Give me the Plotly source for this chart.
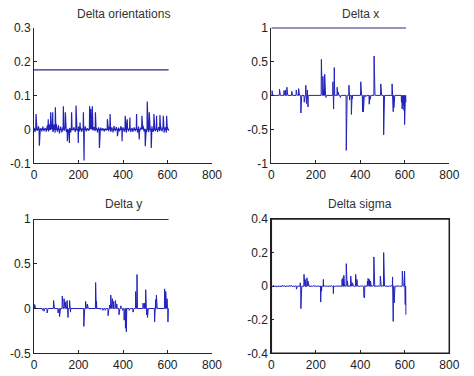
import plotly.graph_objects as go

# ---------------- data ----------------
N_POINTS = 606
NOISE_STEP = 5

x_ticks = [0, 200, 400, 600, 800]
x_ticktext = ["0", "200", "400", "600", "800"]

titles = ["Delta orientations", "Delta x", "Delta y", "Delta sigma"]

# constant reference levels (horizontal lines)
ori_level = 0.175
dx_level = 1.0
dy_level = 1.0

# Delta orientations
ori_noise_milli = [
    5, -8, 6, -4, 9, -10, 3, -6, 8, -5,
    4, -7, 12, -6, 15, -9, 18, -8, 14, -10,
    16, -7, 12, -5, 8, -9, 6, -4, 7, -8,
    5, -6, 4, -9, 7, -3, 6, -8, 5, -4,
    8, -6, 5, -7, 4, -5, 9, -6, 3, -4,
    6, -8, 5, -3, 7, -5, 4, -9, 6, -3,
    5, -4, 3, -6, 2, -3, 4, -5, 8, -7,
    6, -9, 10, -5, 7, -8, 5, -6, 9, -4,
    6, -7, 8, -10, 5, -6, 9, -8, 4, -7,
    6, -5, 7, -9, 8, -6, 5, -8, 10, -7,
    12, -9, 14, -8, 10, -6, 9, -7, 8, -5,
    6, -8, 7, -5, 9, -6, 8, -10, 6, -9,
    7, -4,
]
ori_spike_idx = [9, 24, 64, 75, 84, 96, 114, 132, 141, 150, 159, 169, 189, 199,
                 207, 222, 225, 250, 255, 262, 276, 294, 330, 342, 375, 396, 410,
                 419, 431, 461, 473, 485, 500, 509, 518, 527, 539, 551, 566, 581, 596]
ori_spike_val = [0.045, -0.048, 0.03, 0.05, 0.05, 0.065, -0.012, 0.068, 0.05, -0.035,
                 -0.04, 0.05, 0.07, -0.04, 0.02, 0.05, -0.092, 0.068, 0.06, 0.068,
                 0.05, -0.055, 0.03, 0.045, -0.02, -0.035, 0.04, 0.03, 0.035, 0.045,
                 -0.03, 0.04, -0.05, 0.082, 0.05, -0.055, 0.045, 0.04, 0.042, 0.04, 0.04]

# Delta x
dx_spike_idx = [3, 37, 57, 63, 70, 92, 112, 123, 133, 148, 155, 158, 162, 165,
                225, 228, 232, 236, 240, 246, 277, 280, 283, 296, 300, 310, 337,
                349, 352, 360, 364, 402, 410, 414, 425, 440, 444, 462, 492, 505,
                543, 548, 551, 585, 588, 592, 596, 599, 602, 605]
dx_spike_val = [0.07, 0.09, 0.07, 0.08, 0.12, 0.06, 0.08, 0.1, -0.26, -0.1, 0.15,
                -0.12, 0.08, -0.17, 0.53, 0.1, 0.28, 0.08, 0.31, -0.03, 0.2, -0.2,
                0.41, 0.12, 0.05, -0.03, -0.81, 0.15, -0.07, -0.28, -0.05, 0.2,
                -0.24, -0.24, -0.02, -0.13, -0.06, 0.58, 0.17, -0.58, 0.17, -0.24,
                -0.18, -0.1, -0.2, -0.15, -0.22, -0.43, -0.18, -0.1]

# Delta y
dy_spike_idx = [3, 38, 45, 59, 88, 108, 115, 127, 135, 142, 149, 153, 160, 164,
                224, 232, 240, 277, 281, 300, 310, 320, 333, 340, 345, 352, 358,
                366, 372, 382, 390, 398, 405, 411, 415, 428, 445, 457, 463, 490,
                496, 502, 506, 510, 542, 547, 550, 587, 592, 598, 602]
dy_spike_val = [0.045, -0.02, -0.03, -0.05, 0.09, -0.05, -0.09, 0.14, 0.11, 0.075,
                0.09, -0.1, 0.09, -0.04, -0.2, 0.08, 0.05, 0.29, 0.08, -0.01, -0.02,
                -0.02, -0.08, 0.04, 0.15, 0.11, 0.08, 0.09, 0.05, -0.07, 0.03, -0.02,
                -0.13, -0.22, -0.26, -0.02, -0.04, 0.19, 0.38, 0.06, 0.06, 0.21,
                -0.07, -0.1, -0.15, 0.1, 0.15, 0.22, 0.19, 0.11, -0.15]

# Delta sigma
ds_noise_milli = [
    3, -4, 5, -3, 4, -5, 2, -3, 4, -4,
    5, -3, 3, -5, 4, -2, 3, -4, 5, -3,
    2, -4, 3, -5, 4, -3, 2, -3, 4, -2,
    3, -4, 5, -3, 4, -5, 3, -2, 4, -3,
    2, -2, 3, -2, 2, -3, 2, -2, 3, -2,
    2, -3, 2, -2, 3, -2, 2, -3, 2, -2,
    3, -2, 2, -3, 2, -2, 3, -2, 2, -3,
    2, -2, 3, -2, 2, -3, 2, -2, 3, -2,
    2, -3, 2, -2, 3, -2, 2, -3, 2, -2,
    3, -2, 2, -3, 2, -2, 3, -2, 2, -3,
    2, -2, 3, -2, 2, -3, 2, -2, 3, -2,
    2, -3, 2, -2, 3, -2, 2, -3, 2, -2,
    3, -2,
]
ds_spike_idx = [113, 130, 133, 147, 152, 160, 165, 222, 226, 234, 279, 318, 322,
                326, 337, 342, 357, 365, 379, 385, 416, 419, 432, 435, 438, 441,
                446, 461, 490, 505, 545, 548, 552, 589, 592, 599, 602, 605]
ds_spike_val = [-0.018, 0.02, -0.134, 0.07, 0.04, 0.05, 0.03, -0.095, -0.03, 0.04,
                -0.045, 0.04, 0.05, 0.065, 0.134, 0.03, 0.06, 0.02, 0.07, 0.04,
                -0.066, -0.07, 0.03, 0.046, 0.045, 0.04, 0.03, 0.174, 0.06, 0.2,
                0.055, -0.21, -0.1, 0.09, 0.09, 0.09, -0.11, -0.17]

# y axes
ori_yticks = [-0.1, 0, 0.1, 0.2, 0.3]
ori_yticktext = ["-0.1", "0", "0.1", "0.2", "0.3"]
dx_yticks = [-1, -0.5, 0, 0.5, 1]
dx_yticktext = ["-1", "-0.5", "0", "0.5", "1"]
dy_yticks = [-0.5, 0, 0.5, 1]
dy_yticktext = ["-0.5", "0", "0.5", "1"]
ds_yticks = [-0.4, -0.2, 0, 0.2, 0.4]
ds_yticktext = ["-0.4", "-0.2", "0", "0.2", "0.4"]


# ---------------- helpers ----------------
def build_series(spike_idx, spike_val, noise_milli=None):
    y = [0.0] * N_POINTS
    if noise_milli is not None:
        for k, v in enumerate(noise_milli):
            i = k * NOISE_STEP
            if i < N_POINTS:
                y[i] = v / 1000.0
    for i, v in zip(spike_idx, spike_val):
        y[i] = v
    return y


xs = list(range(N_POINTS))
LINE_COLOR = "#2222bb"
LEVEL_COLOR = "#28288e"
AX_COLOR = "#262626"
TEXT_COLOR = "#222222"
FONT = "Liberation Sans, Arial, Helvetica, sans-serif"

panels = [
    dict(y=build_series(ori_spike_idx, ori_spike_val, ori_noise_milli), level=ori_level,
         yr=[-0.1, 0.3], yt=ori_yticks, ytt=ori_yticktext, box=False, lw=1.2),
    dict(y=build_series(dx_spike_idx, dx_spike_val), level=dx_level,
         yr=[-1, 1], yt=dx_yticks, ytt=dx_yticktext, box=False, lw=1),
    dict(y=build_series(dy_spike_idx, dy_spike_val), level=dy_level,
         yr=[-0.5, 1], yt=dy_yticks, ytt=dy_yticktext, box=False, lw=1),
    dict(y=build_series(ds_spike_idx, ds_spike_val, ds_noise_milli), level=None,
         yr=[-0.4, 0.4], yt=ds_yticks, ytt=ds_yticktext, box=True, lw=1),
]

# the page body adds an 8px offset; the figure fills the rest of the 474x376 window
OFF = 8
W, H = 474 - OFF, 376 - OFF
x_doms = [[(34 - OFF) / W, (212 - OFF) / W], [(271.3 - OFF) / W, (449.3 - OFF) / W]]
y_doms = [[1 - (163.3 - OFF) / H, 1 - (27.5 - OFF) / H],
          [1 - (353.3 - OFF) / H, 1 - (219 - OFF) / H]]
title_y = [1 - (13.5 - OFF) / H, 1 - (204.5 - OFF) / H]

fig = go.Figure()
annotations = []
shapes = []
layout = {}
for k, p in enumerate(panels):
    row, col = divmod(k, 2)
    n = "" if k == 0 else str(k + 1)
    xa, ya = "x" + n, "y" + n
    fig.add_trace(go.Scatter(x=xs, y=p["y"], mode="lines", xaxis=xa, yaxis=ya,
                             line=dict(color=LINE_COLOR, width=p["lw"]), showlegend=False,
                             hoverinfo="skip"))
    if p["level"] is not None:
        lw = 1.2 if p["level"] < p["yr"][1] else 2.2
        fig.add_trace(go.Scatter(x=[xs[0], xs[-1]], y=[p["level"], p["level"]],
                                 mode="lines", xaxis=xa, yaxis=ya,
                                 line=dict(color=LEVEL_COLOR, width=lw),
                                 showlegend=False, hoverinfo="skip"))
    mirror = True if p["box"] else False
    common = dict(showgrid=False, zeroline=False, showline=True, linecolor=AX_COLOR,
                  linewidth=1, ticks="inside", ticklen=3, tickcolor=AX_COLOR,
                  automargin=False,
                  tickfont=dict(family=FONT, size=12, color=TEXT_COLOR), mirror=mirror)
    layout["xaxis" + n] = dict(domain=x_doms[col], range=[0, 800], tickvals=x_ticks,
                               ticktext=x_ticktext, anchor=ya, **common)
    layout["yaxis" + n] = dict(domain=y_doms[row], range=p["yr"], tickvals=p["yt"],
                               ticktext=p["ytt"], anchor=xa, **common)
    if p["box"]:
        # frame around the last panel (MATLAB "box on")
        shapes.append(dict(type="rect", xref="paper", yref="paper",
                           x0=x_doms[col][0], x1=x_doms[col][1],
                           y0=y_doms[row][0], y1=y_doms[row][1],
                           line=dict(color="#1e1e1e", width=1.5), layer="above"))
    annotations.append(dict(text=titles[k], xref="paper", yref="paper",
                            x=sum(x_doms[col]) / 2, y=title_y[row], xanchor="center",
                            yanchor="middle", showarrow=False,
                            font=dict(family=FONT, size=12, color="#333333")))

fig.update_layout(width=W, height=H, margin=dict(l=0, r=0, t=0, b=0, autoexpand=False),
                  paper_bgcolor="white", plot_bgcolor="white",
                  annotations=annotations, shapes=shapes, **layout)
fig.write_html("out.html")
